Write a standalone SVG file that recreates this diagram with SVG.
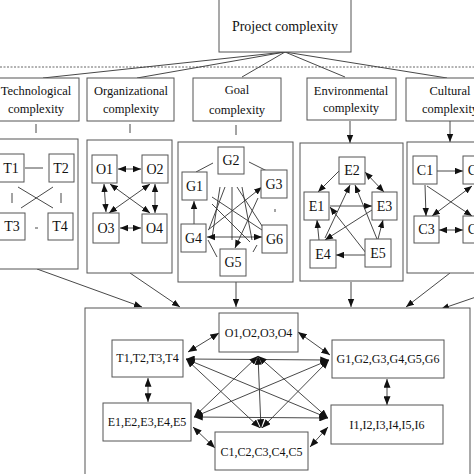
<svg xmlns="http://www.w3.org/2000/svg" width="474" height="474" viewBox="0 0 474 474">
<defs>
<marker id="ah" viewBox="0 0 10 8" refX="10" refY="4" markerWidth="9" markerHeight="7" markerUnits="userSpaceOnUse" orient="auto-start-reverse"><path d="M0,0 L10,4 L0,8 z" fill="#111"/></marker>
<marker id="ahs" viewBox="0 0 10 8" refX="10" refY="4" markerWidth="8" markerHeight="7" markerUnits="userSpaceOnUse" orient="auto-start-reverse"><path d="M0,0 L10,4 L0,8 z" fill="#111"/></marker>
<style>
rect{fill:#fff;stroke:#555;stroke-width:1}
text{font-family:"Liberation Serif","Times New Roman",serif;fill:#111;text-anchor:middle}
.t14{font-size:14px}
.t12{font-size:12.5px}
.n{font-size:14px}
.b{font-size:12px}
line,polyline{stroke:#333;stroke-width:0.9;fill:none}
.a{marker-end:url(#ah)}
.d{marker-start:url(#ah);marker-end:url(#ah)}
.as{marker-end:url(#ahs)}
.ds{marker-start:url(#ahs);marker-end:url(#ahs)}
.dash{stroke:#555;stroke-dasharray:2,1.5}
</style>
</defs>
<rect x="-5" y="-5" width="484" height="484" style="fill:#fff;stroke:none"/>

<g id="connectors">
<line class="dash" x1="0" y1="67" x2="474" y2="67"/>
<line x1="285" y1="52" x2="43" y2="78"/>
<line x1="285" y1="52" x2="137" y2="78"/>
<line x1="285" y1="52" x2="242" y2="77"/>
<line x1="285" y1="52" x2="345" y2="77"/>
<line x1="285" y1="52" x2="447" y2="78"/>
<line x1="36" y1="124" x2="36" y2="133"/>
<line x1="130" y1="124" x2="130" y2="133"/>
<line x1="236" y1="125" x2="236" y2="135"/>
<line class="as" x1="350" y1="121" x2="350" y2="143"/>
<line class="as" x1="450" y1="121" x2="450" y2="142"/>
<line class="as" x1="37" y1="269" x2="142" y2="307"/>
<line class="as" x1="130" y1="273" x2="180" y2="307"/>
<line class="as" x1="236" y1="282" x2="236" y2="307"/>
<line class="as" x1="351" y1="282" x2="351" y2="307"/>
<line class="as" x1="450" y1="273" x2="406" y2="307"/>
<line class="as" x1="476" y1="297" x2="441" y2="309"/>
</g>

<g id="project"><rect x="219" y="-5" width="132" height="57"/><text class="t14" x="285" y="31">Project complexity</text></g>

<g id="cat-tech"><rect x="-5" y="78" width="84" height="43"/><text class="t12" x="36" y="95">Technological</text><text class="t12" x="36" y="113">complexity</text></g>
<g id="cat-org"><rect x="87" y="78" width="87" height="43"/><text class="t12" x="131" y="95">Organizational</text><text class="t12" x="131" y="113">complexity</text></g>
<g id="cat-goal"><rect x="193" y="78" width="88" height="43"/><text class="t12" x="237" y="94">Goal</text><text class="t12" x="237" y="114">complexity</text></g>
<g id="cat-env"><rect x="307" y="78" width="89" height="42"/><text class="t12" x="351" y="95">Environmental</text><text class="t12" x="351" y="112">complexity</text></g>
<g id="cat-cult"><rect x="406" y="78" width="80" height="43"/><text class="t12" x="450" y="95">Cultural</text><text class="t12" x="450" y="113">complexity</text></g>

<g id="tech-net">
<rect x="-5" y="139" width="83" height="130"/>
<line x1="25" y1="168" x2="43" y2="168"/>
<line x1="12" y1="193" x2="12" y2="203"/>
<line x1="61" y1="193" x2="61" y2="203"/>
<line x1="18" y1="187" x2="53" y2="208"/>
<line x1="21" y1="208" x2="53" y2="187"/>
<line x1="35" y1="228" x2="38" y2="228"/>
<g id="T1"><rect x="-2" y="154" width="26" height="28"/><text class="n" x="11" y="173">T1</text></g>
<g id="T2"><rect x="49" y="154" width="25" height="28"/><text class="n" x="61" y="173">T2</text></g>
<g id="T3"><rect x="-1" y="213" width="26" height="27"/><text class="n" x="12" y="231">T3</text></g>
<g id="T4"><rect x="48" y="213" width="25" height="27"/><text class="n" x="60" y="231">T4</text></g>
</g>

<g id="org-net">
<rect x="87" y="140" width="85" height="133"/>
<line class="ds" x1="118" y1="169" x2="141" y2="169"/>
<line class="ds" x1="120" y1="228" x2="141" y2="228"/>
<line class="ds" x1="104" y1="184" x2="106" y2="212"/>
<line class="ds" x1="155" y1="184" x2="155" y2="213"/>
<line class="ds" x1="110" y1="184" x2="150" y2="213"/>
<line class="ds" x1="150" y1="184" x2="109" y2="213"/>
<g id="O1"><rect x="92" y="155" width="25" height="28"/><text class="n" x="104.5" y="174">O1</text></g>
<g id="O2"><rect x="142" y="155" width="26" height="28"/><text class="n" x="155" y="174">O2</text></g>
<g id="O3"><rect x="93" y="213" width="26" height="30"/><text class="n" x="106" y="233">O3</text></g>
<g id="O4"><rect x="142" y="214" width="25" height="29"/><text class="n" x="154.5" y="233">O4</text></g>
</g>

<g id="goal-net">
<rect x="178" y="142" width="115" height="140"/>
<line x1="213" y1="163" x2="196" y2="172"/>
<line x1="249" y1="162" x2="267" y2="171"/>
<line x1="225" y1="187" x2="209" y2="229"/>
<line x1="232" y1="187" x2="232" y2="240"/>
<line x1="237" y1="187" x2="264" y2="229"/>
<line x1="242" y1="187" x2="252" y2="240"/>
<line x1="212" y1="197" x2="262" y2="230"/>
<line x1="212" y1="204" x2="250" y2="242"/>
<line x1="220" y1="187" x2="212" y2="238"/>
<line class="as" x1="208" y1="230" x2="262" y2="187"/>
<line class="as" x1="258" y1="198" x2="235" y2="248"/>
<line class="ds" x1="207" y1="237" x2="262" y2="237"/>
<line class="as" x1="194" y1="224" x2="194" y2="201"/>
<line x1="208" y1="240" x2="217" y2="257"/>
<line x1="257" y1="245" x2="253" y2="252"/>
<line x1="275" y1="209" x2="275" y2="212"/>
<g id="G2"><rect x="218" y="147" width="26" height="27"/><text class="n" x="231" y="165">G2</text></g>
<g id="G1"><rect x="182" y="172" width="25" height="28"/><text class="n" x="194.5" y="191">G1</text></g>
<g id="G3"><rect x="261" y="170" width="26" height="28"/><text class="n" x="274" y="189">G3</text></g>
<g id="G4"><rect x="181" y="224" width="25" height="28"/><text class="n" x="193.5" y="243">G4</text></g>
<g id="G6"><rect x="262" y="225" width="25" height="28"/><text class="n" x="274.5" y="244">G6</text></g>
<g id="G5"><rect x="220" y="249" width="26" height="27"/><text class="n" x="233" y="267">G5</text></g>
</g>

<g id="env-net">
<rect x="300" y="143" width="103" height="138"/>
<line class="as" x1="339" y1="171" x2="318" y2="192"/>
<line class="ds" x1="365" y1="172" x2="384" y2="192"/>
<line class="as" x1="330" y1="206" x2="372" y2="206"/>
<line class="as" x1="319" y1="240" x2="317" y2="220"/>
<line class="as" x1="325" y1="238" x2="350" y2="185"/>
<line class="as" x1="372" y1="210" x2="325" y2="240"/>
<line class="as" x1="377" y1="239" x2="355" y2="185"/>
<line class="as" x1="366" y1="253" x2="330" y2="207"/>
<line class="as" x1="378" y1="239" x2="383" y2="220"/>
<line class="as" x1="365" y1="255" x2="336" y2="255"/>
<g id="E2"><rect x="339" y="157" width="26" height="27"/><text class="n" x="352" y="175">E2</text></g>
<g id="E1"><rect x="304" y="192" width="25" height="28"/><text class="n" x="316.5" y="211">E1</text></g>
<g id="E3"><rect x="372" y="192" width="25" height="28"/><text class="n" x="384.5" y="211">E3</text></g>
<g id="E4"><rect x="310" y="240" width="26" height="28"/><text class="n" x="323" y="259">E4</text></g>
<g id="E5"><rect x="365" y="239" width="26" height="28"/><text class="n" x="378" y="258">E5</text></g>
</g>

<g id="cult-net">
<rect x="407" y="142" width="80" height="131"/>
<line class="as" x1="437" y1="171" x2="463" y2="171"/>
<line class="as" x1="425" y1="185" x2="426" y2="216"/>
<line class="as" x1="427" y1="186" x2="472" y2="216"/>
<line class="ds" x1="472" y1="186" x2="432" y2="216"/>
<line class="ds" x1="439" y1="230" x2="463" y2="230"/>
<g id="C1"><rect x="413" y="156" width="24" height="28"/><text class="n" x="425" y="175">C1</text></g>
<g id="C2"><rect x="463" y="156" width="26" height="28"/><text class="n" x="476" y="175">C2</text></g>
<g id="C3"><rect x="414" y="216" width="25" height="27"/><text class="n" x="426.5" y="234">C3</text></g>
<g id="C4"><rect x="463" y="216" width="26" height="27"/><text class="n" x="476" y="234">C4</text></g>
</g>

<g id="integrated">
<rect x="85" y="308" width="385" height="180"/>
<g id="bottom-connectors">
<line class="d" x1="188" y1="352" x2="219" y2="333"/>
<line class="d" x1="298" y1="332" x2="330" y2="355"/>
<line class="d" x1="186" y1="359" x2="329" y2="360"/>
<line class="d" x1="148" y1="378" x2="148" y2="402"/>
<line class="d" x1="387" y1="379" x2="387" y2="405"/>
<line class="d" x1="186" y1="359" x2="260" y2="428"/>
<line class="d" x1="186" y1="359" x2="328" y2="418"/>
<line class="d" x1="258" y1="356" x2="194" y2="417"/>
<line class="d" x1="258" y1="356" x2="328" y2="418"/>
<line class="d" x1="258" y1="356" x2="261" y2="428"/>
<line class="d" x1="329" y1="360" x2="194" y2="417"/>
<line class="d" x1="329" y1="360" x2="262" y2="428"/>
<line class="d" x1="194" y1="417" x2="328" y2="418"/>
<line class="d" x1="193" y1="427" x2="215" y2="448"/>
<line class="d" x1="328" y1="427" x2="310" y2="447"/>
</g>
<g id="O"><rect x="219" y="313" width="79" height="39"/><text class="b" x="258.5" y="337">O1,O2,O3,O4</text></g>
<g id="T"><rect x="112" y="340" width="71" height="37"/><text class="b" x="147.5" y="362">T1,T2,T3,T4</text></g>
<g id="G"><rect x="332" y="340" width="112" height="38"/><text class="b" x="388" y="363">G1,G2,G3,G4,G5,G6</text></g>
<g id="E"><rect x="103" y="403" width="88" height="38"/><text class="b" x="147" y="426">E1,E2,E3,E4,E5</text></g>
<g id="I"><rect x="331" y="405" width="112" height="39"/><text class="b" x="387" y="429">I1,I2,I3,I4,I5,I6</text></g>
<g id="C"><rect x="215" y="432" width="93" height="38"/><text class="b" x="261.5" y="456">C1,C2,C3,C4,C5</text></g>
</g>
</svg>
